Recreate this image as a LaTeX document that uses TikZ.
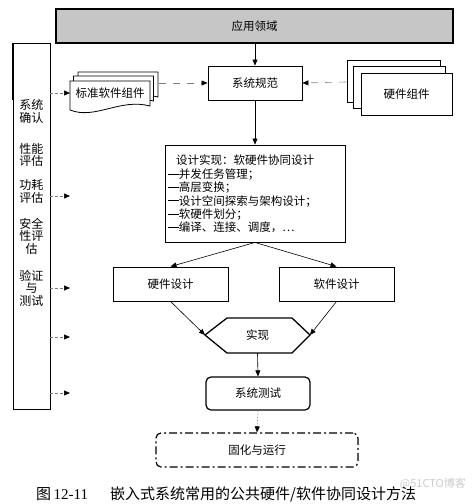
\documentclass[tikz,border=0pt]{standalone}
\usepackage{fontspec}
\setmainfont{Liberation Serif}
\newfontfamily\cjk{Noto Sans CJK SC}
\usetikzlibrary{arrows.meta}
\newcommand\mydsh{\rule[0.36em]{0.95em}{0.6pt}}
\begin{document}
\begin{tikzpicture}[x=1pt,y=-1pt,
  font=\cjk\fontsize{11.5}{12}\selectfont,
  box/.style={draw, line width=0.9pt, fill=white, inner sep=0pt},
  arr/.style={-{Triangle[length=6pt,width=5pt,color=black]}, line width=0.6pt},
  larr/.style={arr, gray, dash pattern=on 2.5pt off 2.5pt},
  darr/.style={arr, gray, dash pattern=on 7pt off 7pt},
  lbtext/.style={align=center, font=\cjk\fontsize{12}{12.5}\selectfont, inner sep=0pt},
  page/.style={draw, fill=white, line width=0.8pt}]
\useasboundingbox (0,0) rectangle (474,504);

% left column box
\node[box, minimum width=37pt, minimum height=366pt] (lb) at (31.5,226) {};
\draw[line width=2pt] (lb.north west) -- ++(0,57);
\node[lbtext] (lt1) at (31.5,111.5) {系统\\确认};
\node[lbtext] (lt2) at (31.5,155) {性能\\评估};
\node[lbtext] (lt3) at (31.5,191.5) {功耗\\评估};
\node[lbtext] (lt4) at (31.5,236) {安全\\性评\\估};
\node[lbtext] (lt5) at (31.5,288) {验证\\与\\测试};

% top box
\node[box, fill=gray!45, line width=1.5pt, minimum width=397pt, minimum height=34pt] (app) at (254.5,26) {应用领域};

% system spec
\node[box, minimum width=94pt, minimum height=34pt] (spec) at (255,83) {系统规范};

% standard software components (document stack)
\foreach \dx/\dy in {8/-9, 3.5/-5, 0/0}
  \draw[page, shift={(\dx,\dy)}] (70,81) -- (150,81) -- (150,106)
     .. controls (120,98) and (95,120) .. (70,110) -- cycle;
\node[inner sep=0pt] (std) at (110,93) {标准软件组件};
\coordinate (stdR) at (159,83);
\coordinate (stdL) at (70,93);

% hardware components (stack)
\draw[page] (347,60) rectangle (440,102);
\draw[page] (353,66) rectangle (445,108);
\node[box, line width=0.8pt, minimum width=91pt, minimum height=42pt] (hw) at (406.5,94) {硬件组件};
\coordinate (hwL) at (346,82);

% design box
\node[box, minimum width=180pt, minimum height=97pt, text width=174pt, inner xsep=3pt, align=left,
  font=\cjk\fontsize{11.5}{13.2}\selectfont] (design) at (255,193.5)
  {\hspace*{8pt}设计实现：软硬件协同设计\\[1.5pt]
   \mydsh 并发任务管理；\\
   \mydsh 高层变换；\\
   \mydsh 设计空间探索与架构设计；\\
   \mydsh 软硬件划分；\\
   \mydsh 编译、连接、调度，…};

% hardware / software design
\node[box, minimum width=115pt, minimum height=34pt] (hwd) at (170.5,284) {硬件设计};
\node[box, minimum width=115pt, minimum height=34pt] (swd) at (336.5,284) {软件设计};

% implementation hexagon
\coordinate (implL) at (205,335);
\coordinate (implTL) at (227,318);
\coordinate (implTR) at (292,318);
\coordinate (implR) at (310,335);
\coordinate (implBR) at (292,353);
\coordinate (implBL) at (227,353);
\coordinate (implB) at (257.5,353);
\draw[line width=1.3pt, fill=white] (implL) -- (implTL) -- (implTR) -- (implR) -- (implBR) -- (implBL) -- cycle;
\node[inner sep=0pt] (impl) at (257.5,335.5) {实现};

% system test
\node[box, line width=1.2pt, rounded corners=5pt, minimum width=104pt, minimum height=33pt] (test) at (258,393.5) {系统测试};

% solidify and run
\node[box, line width=1.2pt, rounded corners=5pt, dash pattern=on 8pt off 3pt on 2pt off 3pt,
  minimum width=202pt, minimum height=34pt] (run) at (257,450) {固化与运行};

% connectors
\draw[arr] (spec.north |- app.south) -- (spec.north);
\draw[arr] (spec.south) -- (design.north);
\draw[arr] (design.south) -- (hwd.north);
\draw[arr] (design.south) -- (swd.north);
\draw[arr] (hwd.south) -- (implL);
\draw[arr] (swd.south) -- (implR);
\draw[arr] (implB) -- (test.north);
\draw[arr, gray, dash pattern=on 1.5pt off 1.5pt] (test.south) -- (run.north);
\draw[darr] (stdR) -- (spec.west);
\draw[darr] (hwL) -- (spec.east);

% left dashed arrows
\coordinate (l1) at (50,93);
\coordinate (l2) at (50,196);   \coordinate (t2) at (70,196);
\coordinate (l3) at (50,288);   \coordinate (t3) at (70,288);
\coordinate (l4) at (50,337);   \coordinate (t4) at (70,337);
\coordinate (l5) at (50,393);   \coordinate (t5) at (70,393);
\draw[larr] (l1) -- (stdL);
\draw[larr] (l2) -- (t2);
\draw[larr] (l3) -- (t3);
\draw[larr] (l4) -- (t4);
\draw[larr] (l5) -- (t5);

% caption and watermark
\node[text=gray!40, anchor=east, inner sep=0pt, font=\cjk\fontsize{11}{11}\selectfont] (wm) at (466,484) {@51CTO博客};
\node[anchor=west, inner sep=0pt, font=\cjk\fontsize{15}{15}\selectfont] (cap1) at (36,494)
  {图\,{\rmfamily 12-11}};
\node[anchor=west, inner sep=0pt, font=\cjk\fontsize{15}{15}\selectfont] (cap2) at (110,494)
  {嵌入式系统常用的公共硬件/软件协同设计方法};
\end{tikzpicture}
\end{document}
